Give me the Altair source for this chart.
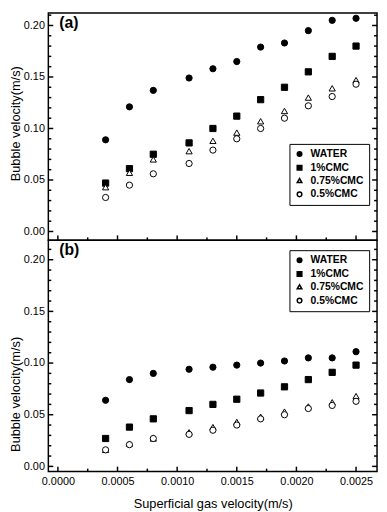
import altair as alt
import pandas as pd

# ---- data ----
x_vals = [0.0004, 0.0006, 0.0008, 0.0011, 0.0013, 0.0015, 0.0017, 0.0019, 0.0021, 0.0023, 0.0025]
series_names = ["WATER", "1%CMC", "0.75%CMC", "0.5%CMC"]

a_water = [0.089, 0.121, 0.137, 0.149, 0.158, 0.165, 0.179, 0.183, 0.195, 0.205, 0.207]
a_cmc1 = [0.047, 0.061, 0.075, 0.086, 0.100, 0.112, 0.128, 0.140, 0.155, 0.170, 0.180]
a_cmc075 = [0.043, 0.057, 0.070, 0.078, 0.088, 0.096, 0.107, 0.117, 0.130, 0.139, 0.147]
a_cmc05 = [0.033, 0.045, 0.056, 0.066, 0.079, 0.090, 0.100, 0.110, 0.122, 0.131, 0.143]

b_water = [0.064, 0.084, 0.090, 0.094, 0.096, 0.098, 0.100, 0.102, 0.105, 0.105, 0.111]
b_cmc1 = [0.027, 0.038, 0.046, 0.054, 0.060, 0.065, 0.071, 0.077, 0.084, 0.091, 0.098]
b_cmc075 = [0.016, 0.022, 0.027, 0.033, 0.038, 0.043, 0.048, 0.053, 0.058, 0.062, 0.068]
b_cmc05 = [0.016, 0.021, 0.027, 0.031, 0.035, 0.040, 0.046, 0.050, 0.056, 0.059, 0.063]

y_major = [0.0, 0.05, 0.10, 0.15, 0.20]
y_minor = [0.01, 0.02, 0.03, 0.04, 0.06, 0.07, 0.08, 0.09, 0.11, 0.12, 0.13, 0.14,
           0.16, 0.17, 0.18, 0.19, 0.21]
x_major = [0.0, 0.0005, 0.001, 0.0015, 0.002, 0.0025]
x_minor = [0.00025, 0.00075, 0.00125, 0.00175, 0.00225]

FONT = "Liberation Sans"
W = 334
MAJ = 5
MIN = 3


def make_df(cols):
    rows = []
    for name, vals in zip(series_names, cols):
        for xv, yv in zip(x_vals, vals):
            rows.append({"x": xv, "y": yv, "series": name})
    return pd.DataFrame(rows)


x_scale = alt.Scale(domain=[-0.00008, 0.002676], nice=False, zero=False)
NOAX = dict(ticks=False, grid=False, domain=False)


def panel(df, ydomain, h, tag, bottom, legend_y, title_y):
    y_scale = alt.Scale(domain=ydomain, nice=False, zero=False)
    if bottom:
        xaxis = alt.Axis(values=x_major, format=".4f", labelPadding=4, orient="bottom",
                         title="Superficial gas velocity(m/s)", titleFont=FONT,
                         titleFontSize=13, titleFontWeight="normal", titleColor="black",
                         titlePadding=11, labelFont=FONT, labelFontSize=11,
                         labelColor="black", labelFlush=False, labelOverlap=False,
                         **NOAX)
    else:
        xaxis = None
    yleft = alt.Axis(values=y_major, format=".2f", labelPadding=4, orient="left",
                     title="Bubble velocity(m/s)", titleFont=FONT, titleFontSize=13,
                     titleFontWeight="normal", titleColor="black", titlePadding=1,
                     titleY=title_y, labelFont=FONT, labelFontSize=11,
                     labelColor="black", labelOverlap=False, **NOAX)
    leg = alt.Legend(title=None, orient="none", legendX=245, legendY=legend_y,
                     strokeColor="black", fillColor="white", padding=5,
                     labelFont=FONT, labelFontSize=10.5, labelFontWeight="bold",
                     labelColor="black", symbolSize=22, labelOffset=6, rowPadding=2)
    pts = alt.Chart(df).mark_point(filled=True, stroke="black", strokeWidth=1,
                                   opacity=1, size=40).encode(
        x=alt.X("x:Q", scale=x_scale, axis=xaxis),
        y=alt.Y("y:Q", scale=y_scale, axis=yleft),
        shape=alt.Shape("series:N", scale=alt.Scale(domain=series_names,
                        range=["circle", "square", "triangle-up", "circle"]), legend=leg),
        fill=alt.Fill("series:N", scale=alt.Scale(domain=series_names,
                      range=["black", "black", "white", "white"]), legend=leg),
    )

    def yticks(values, x0, x1):
        return alt.Chart(pd.DataFrame({"y": values})).mark_rule(
            color="black", strokeWidth=1.5).encode(
            y=alt.Y("y:Q", scale=y_scale, axis=None),
            x=alt.value(x0), x2=alt.value(x1))

    def xticks(values, size):
        return alt.Chart(pd.DataFrame({"x": values})).mark_rule(
            color="black", strokeWidth=1.5).encode(
            x=alt.X("x:Q", scale=x_scale, axis=None),
            y=alt.value(h), y2=alt.value(h - size))

    ticks = [
        yticks(y_major, 0, MAJ), yticks(y_minor, 0, MIN),
        yticks(y_major, W, W - MAJ), yticks(y_minor, W, W - MIN),
        xticks(x_major, MAJ), xticks(x_minor, MIN),
    ]
    txt = alt.Chart(pd.DataFrame({"t": [tag]})).mark_text(
        font=FONT, fontSize=16, fontWeight="bold", color="black",
        align="left", baseline="middle").encode(
        text="t:N", x=alt.value(11), y=alt.value(10))
    return alt.layer(pts, *ticks, txt).resolve_axis(
        x="independent", y="independent").properties(width=W, height=h)


top = panel(make_df([a_water, a_cmc1, a_cmc075, a_cmc05]), [-0.0086, 0.2121], 231,
            "(a)", False, 133, 112)
bot = panel(make_df([b_water, b_cmc1, b_cmc075, b_cmc05]), [-0.00505, 0.21876], 235,
            "(b)", True, 10, 156)

chart = alt.vconcat(top, bot, spacing=0, bounds="flush").resolve_scale(
    shape="independent", fill="independent").resolve_legend(
    shape="independent", fill="independent").properties(
    padding={"left": 0, "top": 0, "right": 0, "bottom": 0}
).configure(padding=0).configure_view(stroke="black", strokeWidth=1.5
).configure_legend(strokeWidth=1)

chart.save("out.html", embed_options={"renderer": "svg", "actions": False})
